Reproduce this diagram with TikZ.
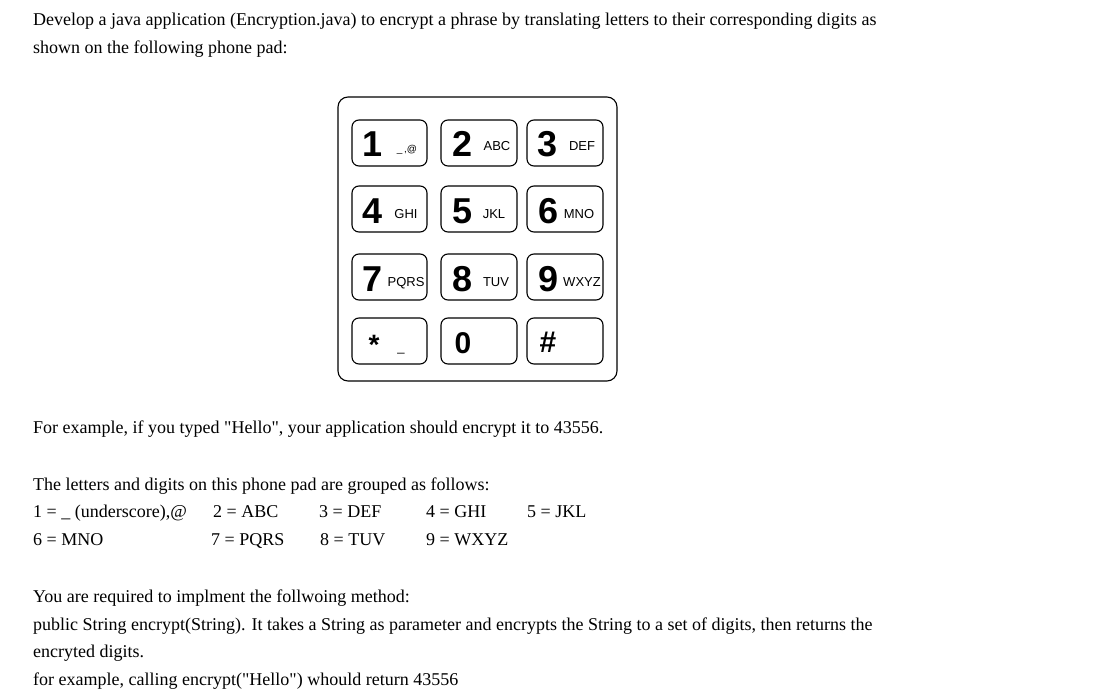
\documentclass[tikz,border=0pt]{standalone}
\usepackage{fontspec}
\setmainfont{Liberation Serif}
\newfontfamily\keyfont{Liberation Sans}
\newcommand{\q}{\textquotedbl}
\begin{document}
\begin{tikzpicture}[x=1pt,y=-1pt,
  txt/.style={anchor=base west,inner sep=0,font=\fontsize{18}{18}\selectfont},
  keybox/.style={draw,line width=1.1pt,rounded corners=7pt},
  dig/.style={anchor=base,inner sep=0,font=\keyfont\bfseries\fontsize{36}{36}\selectfont},
  let/.style={anchor=base,inner sep=0,font=\keyfont\fontsize{13}{13}\selectfont}]
\useasboundingbox (0,0) rectangle (1098,692);
\node[txt] (l1) at (33,26) {Develop a java application (Encryption.java) to encrypt a phrase by translating letters to their corresponding digits as};
\node[txt] (l2) at (33,54) {shown on the following phone pad:};
\draw[keybox,rounded corners=10pt] (338,97) rectangle (617,381);
\foreach \r/\ya/\yb in {1/120/166,2/186/232,3/254/300,4/318/364}{
  \foreach \c/\xa/\xb in {1/352/427,2/441/517,3/527/603}{
    \draw[keybox] (\xa,\ya) rectangle (\xb,\yb);
  }}
\node[dig] (k1) at (373,157) {1};
\node[let,font=\keyfont\fontsize{10}{10}\selectfont] (t1) at (407,153) {\_\,,@};
\node[dig] (k2) at (463,157) {2};
\node[let] (t2) at (497,151) {ABC};
\node[dig] (k3) at (548,157) {3};
\node[let] (t3) at (582,151) {DEF};
\node[dig] (k4) at (373,224) {4};
\node[let] (t4) at (406,219) {GHI};
\node[dig] (k5) at (463,224) {5};
\node[let] (t5) at (494,219) {JKL};
\node[dig] (k6) at (549,224) {6};
\node[let] (t6) at (579,219) {MNO};
\node[dig] (k7) at (373,292) {7};
\node[let] (t7) at (406,287) {PQRS};
\node[dig] (k8) at (463,292) {8};
\node[let] (t8) at (496,287) {TUV};
\node[dig] (k9) at (549,292) {9};
\node[let] (t9) at (582,287) {WXYZ};
\node[dig,font=\keyfont\bfseries\fontsize{28}{28}\selectfont] (ks) at (374,355) {*};
\node[let] (tsp) at (401,352) {\_};
\node[dig,font=\keyfont\bfseries\fontsize{30}{30}\selectfont] (k0) at (463,354) {0};
\node[dig,font=\keyfont\bfseries\fontsize{30}{30}\selectfont] (kh) at (548,353) {\#};
\node[txt] (l3) at (33,434) {For example, if you typed \q Hello\q, your application should encrypt it to 43556.};
\node[txt] (l4) at (33,490) {The letters and digits on this phone pad are grouped as follows:};
\node[txt] (g1) at (33,517) {1 = \_ (underscore),@};
\node[txt] (g2) at (213,517) {2 = ABC};
\node[txt] (g3) at (319,517) {3 = DEF};
\node[txt] (g4) at (426,517) {4 = GHI};
\node[txt] (g5) at (527,517) {5 = JKL};
\node[txt] (g6) at (33,545) {6 = MNO};
\node[txt] (g7) at (211,545) {7 = PQRS};
\node[txt] (g8) at (320,545) {8 = TUV};
\node[txt] (g9) at (426,545) {9 = WXYZ};
\node[txt] (l5) at (33,602) {You are required to implment the follwoing method:};
\node[txt] (l6) at (33,630) {public String encrypt(String). It takes a String as parameter and encrypts the String to a set of digits, then returns the};
\node[txt] (l7) at (33,657) {encryted digits.};
\node[txt] (l8) at (33,685) {for example, calling encrypt(\q Hello\q) whould return 43556};
\end{tikzpicture}
\end{document}
